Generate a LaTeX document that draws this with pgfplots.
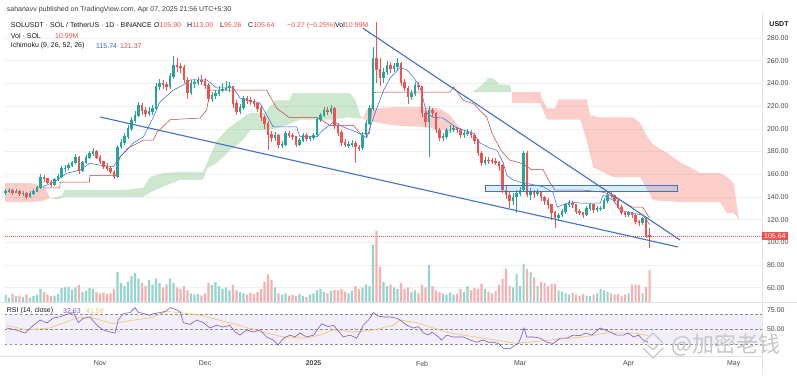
\documentclass[border=0pt]{standalone}
\usepackage{pgfplots}
\usepackage{pgfplotstable}
\pgfplotsset{compat=1.18}
\usepackage{fontspec}
\setmainfont{Liberation Sans}
\newfontfamily\cjk{Noto Sans CJK SC}
\definecolor{upc}{RGB}{38,166,154}
\definecolor{downc}{RGB}{239,83,80}
\definecolor{volup}{RGB}{150,212,206}
\definecolor{voldn}{RGB}{247,176,175}
\definecolor{txt}{RGB}{19,23,34}
\definecolor{hdr}{RGB}{60,60,66}
\definecolor{tickc}{RGB}{70,74,84}
\definecolor{gridc}{RGB}{238,240,244}
\definecolor{sepc}{RGB}{224,227,235}
\definecolor{tenkan}{RGB}{41,98,255}
\definecolor{kijun}{RGB}{183,28,28}
\definecolor{cg}{RGB}{76,175,80}
\definecolor{cr}{RGB}{244,67,54}
\definecolor{trend}{RGB}{66,114,196}
\definecolor{rsic}{RGB}{126,87,194}
\definecolor{rsima}{RGB}{240,200,110}
\definecolor{rsibg}{RGB}{243,239,250}
\newcommand\fs{\fontsize{7}{8.4}\selectfont}
\pgfplotsset{candle/.style={draw=none, no markers, error bars/y dir=both, error bars/y explicit, error bars/error mark=none}}
\pgfplotstableread{
d o h l c v
-27 144 147 142 145 2.5
-26 145 148 143 146 1.5
-25 146 147 142 144 2.8
-24 144 147 143 145 2.0
-23 145 146 141 143 2.2
-22 143 145 141 143.5 1.8
-21 143.5 144 138 140 2.5
-20 140 145 139 143 1.5
-19 143 147 142 145 2.0
-18 145 150 144 148 2.5
-17 148 160 147 157 4.5
-16 157 159 153 156 3.5
-15 156 157 151 153 2.5
-14 153 155 149 151 2.0
-13 151 157 150 155 2.2
-12 155 160 154 158 2.8
-11 158 167 157 165 4.8
-10 165 168 162 165.5 5.0
-9 165.5 170 164 168 5.2
-8 168 172 166 170 4.2
-7 170 178 169 175 5.0
-6 175 176 160 163 5.8
-5 163 172 162 170 3.5
-4 170 177 169 175 3.8
-3 175 180 173 178 4.8
-2 178 183 176 180 4.5
-1 180 181 173 175 3.5
0 175 177 169 171 3.0
1 171 172 165 167 3.2
2 167 170 163 165 2.8
3 165 167 160 162 3.0
4 162 164 156 158 4.5
5 158 186 157 184 10.3
6 184 191 182 188 6.5
7 188 196 186 193 5.5
8 193 203 191 200 7.0
9 200 210 198 207 9.0
10 207 216 205 212 10.0
11 212 224 210 221 8.0
12 221 223 212 216 6.5
13 216 219 210 213 5.5
14 213 219 211 215 7.5
15 215 221 212 218 6.0
16 218 240 217 237 8.0
17 237 244 234 240 6.5
18 240 243 235 239 5.0
19 239 241 233 237 6.0
20 237 249 235 246 8.0
21 246 264 244 256 6.5
22 256 262 250 255 5.0
23 255 258 249 254 4.5
24 254 256 240 243 5.5
25 243 246 226 232 4.0
26 232 243 230 240 3.0
27 240 244 236 241 2.5
28 241 246 239 243 2.8
29 243 247 239 242 2.2
30 242 245 235 238 3.0
31 238 240 224 227 6.5
32 227 232 224 229 5.8
33 229 234 226 231 6.8
34 231 238 229 234 5.5
35 234 240 232 235 4.5
36 235 242 233 236 5.0
37 236 241 232 237 4.0
38 237 238 218 222 6.0
39 222 225 212 215 4.0
40 215 222 213 219 3.5
41 219 229 217 227 3.0
42 227 229 222 225 2.5
43 225 228 221 224 3.2
44 224 226 219 222 2.8
45 222 224 215 218 3.5
46 218 220 207 210 4.5
47 210 212 200 205 7.0
48 205 207 181 195 9.5
49 195 198 188 192 7.5
50 192 197 189 194 5.0
51 194 195 183 186 3.0
52 186 189 183 186 2.5
53 186 198 185 196 3.0
54 196 198 192 194 2.2
55 194 196 190 193 2.5
56 193 194 184 186 2.0
57 186 192 185 190 2.8
58 190 196 188 194.5 2.0
59 194.5 196 189 191.5 1.8
60 191.5 194 189 192 2.5
61 192 196 190 194.5 3.0
62 194.5 210 193 208 4.0
63 208 214 206 212 4.5
64 212 219 210 216.6 3.5
65 216.6 219 212 215 3.0
66 215 221 213 218 3.8
67 218 219 200 203 4.2
68 203 205 194 197 4.0
69 197 199 185 188 4.5
70 188 191 184 186 3.5
71 186 189 183 186 3.0
72 186 190 184 187.5 3.8
73 187.5 189 170 184 5.5
74 184 186 180 183 4.5
75 183 197 181 194.5 5.0
76 194.5 208 193 205 6.0
77 205 221 203 218 5.5
78 218 272 216 262 19.7
79 262 294 240 252 24.5
80 252 262 238 245 12.0
81 245 254 240 250 6.8
82 250 260 247 256 5.5
83 256 259 249 253 6.0
84 253 258 250 255 5.0
85 255 262 252 258 4.5
86 258 259 238 241 6.5
87 241 244 233 236 4.5
88 236 238 222 228 5.0
89 228 234 225 231 3.5
90 231 241 229 238.6 4.0
91 238.6 241 234 237 3.0
92 237 238 210 214 6.0
93 214 216 202 206 5.0
94 206 220 175 216.6 12.8
95 216.6 218 210 214 5.5
96 214 215 196 199 4.0
97 199 201 189 192 3.5
98 192 196 189 193 3.0
99 193 201 191 199 2.5
100 199 203 196 199 3.2
101 199 203 197 200 2.5
102 200 202 196 199 2.8
103 199 201 192 194.5 4.5
104 194.5 199 192 196 3.5
105 196 200 194 197 5.5
106 197 199 192 194.5 4.0
107 194.5 196 187 190 4.8
108 190 191 176 178.6 4.5
109 178.6 180 167 170 6.2
110 170 175 168 172.5 4.5
111 172.5 175 169 172 3.5
112 172 174 169 171 3.0
113 171 174 168 170 3.8
114 170 172 163 168 6.0
115 168 169 143 146 8.0
116 146 150 138 141.7 11.4
117 141.7 145 130 137 5.5
118 137 143 133 140 5.0
119 140 146 126 143 9.7
120 143 149 141 146 5.5
121 146 180 144 178.6 13.1
122 178.6 180 140 141.7 11.4
123 141.7 148 137 144 10.3
124 144 146 139 143 8.5
125 143 147 141 144 5.5
126 144 145 136 140 6.9
127 140 141 133 137 6.5
128 137 139 129 133 5.5
129 133 134 120 126 6.2
130 126 128 113 122 6.2
131 122 126 119 124 4.0
132 124 129 122 127 3.5
133 127 135 125 133 3.0
134 133 137 131 134.6 2.5
135 134.6 136 130 133 3.2
136 133 134 125 127 2.5
137 127 129 124 126 2.0
138 126 127 121 124 2.8
139 124 132 123 130 2.2
140 130 135 128 133 2.0
141 133 134 126 128.5 2.5
142 128.5 132 127 130 3.0
143 130 132 128 130 4.5
144 130 139 129 137 4.0
145 137 144 135 141.7 3.5
146 141.7 145 139 141 3.0
147 141 142 135 137 2.5
148 137 138 129 131 2.8
149 131 133 124 126 2.0
150 126 127 122 124 2.5
151 124 128 122 126 3.0
152 126 127 121 124 6.0
153 124 125 116 118 6.0
154 118 120 114 117 5.8
155 117 122 115 121 3.0
156 121 122 104 105.9 5.2
157 105.9 113 95.26 105.64 11.0
}\candles
\begin{document}
\begin{tikzpicture}[x=1pt,y=1pt]
\path[use as bounding box] (0,0) rectangle (797,375);
\fill[white] (0,0) rectangle (797,375);
% separators
\draw[sepc, line width=0.6pt] (762,0) -- (762,362);
\draw[sepc, line width=0.6pt] (0,73) -- (797,73);
\draw[sepc, line width=0.6pt] (0,19) -- (762,19);

% ---------- main price pane ----------
\begin{axis}[
  at={(5pt,73pt)}, anchor=south west,
  scale only axis, width=757pt, height=285pt,
  xmin=-27.14, xmax=189.1, ymin=47.4, ymax=298.5,
  axis line style={draw=none}, tick style={draw=none},
  xtick=\empty,
  ytick={60,80,...,280},
  yticklabel pos=right,
  ymajorgrids, major grid style={draw=gridc, line width=0.5pt},
  yticklabel style={font=\fs, text=tickc, xshift=1.5pt,
    /pgf/number format/fixed, /pgf/number format/fixed zerofill,
    /pgf/number format/precision=2, /pgf/number format/1000 sep={},
    /pgf/number format/assume math mode=true},
  clip=false,
]
% Ichimoku cloud
\addplot[fill=cr, fill opacity=0.26, draw=none] coordinates {(-27.14,152.2)(-20,152.2)(-17,150)(-16,148)(-15,144)(-14.3,139)(-15,138)(-16,137)(-17,136)(-20,135.5)(-27.14,135.5)};
\addplot[fill=cg, fill opacity=0.28, draw=none] coordinates {(-14.3,138.5)(-12,140)(-11,141)(-10,146)(6.6,146)(12.3,148)(14.3,157.5)(18,161)(22.9,162)(29.4,162)(30.6,170)(33.4,190)(37.1,201.6)(40.9,210)(42.9,214)(47.1,214)(50,225)(54,225)(55,231.5)(71.4,231.5)(73,225)(74.3,212)(75,209)(74.3,209)(71,210)(66,208)(57,208)(54,204)(50,200)(47.1,199)(42.9,199)(40.9,190)(37.1,181)(33.4,170)(30.6,165)(29.4,155)(22.9,155)(18,149)(14.3,144)(12.3,140)(6.6,140)(-10,140)(-11,139)(-12,138)};
\addplot[fill=cr, fill opacity=0.26, draw=none] coordinates {(75,209)(76.5,218)(84,219)(92.4,219)(97,218)(100,212)(102,204)(103,200)(102,199)(97,199)(92.4,201.6)(84,203)(80,205)(76.5,207)};
\addplot[fill=cg, fill opacity=0.28, draw=none] coordinates {(106.3,232.4)(108,236)(109.5,240)(111,245)(112.5,244)(114,239)(117.1,238.6)(117.5,232.4)};
\addplot[fill=cr, fill opacity=0.26, draw=none] coordinates {(117.7,232.4)(125.7,232.4)(126.2,227)(127.7,218)(130,218)(131,226)(139,226)(140,212)(142.9,210)(152.3,210)(154.3,205)(156.3,193)(158,186)(162,178.7)(166,170)(168.6,166)(171.4,161)(177,161)(179,158)(181,152)(182.5,120)(181,126)(179,126)(177.1,135.5)(165.7,135.5)(158,137)(154.3,157.5)(146.6,157.5)(140.9,166)(139,190)(137.2,208)(127.7,208)(125.7,222.7)(117.7,222.7)};
% Kijun
\addplot[kijun!85, line width=0.5pt] coordinates {(-16.3,148)(-11.5,148)(-11.4,153)(-3,153)(-2.9,159)(4.5,159)(5,168)(5.7,175)(8,183)(12.4,190)(15.2,190)(16.3,197)(20,208)(28.6,209.5)(30.5,216.6)(31.4,234)(47.6,234)(50.5,218)(54,210)(62,210)(65.7,203)(72.4,203)(74.3,196)(77,196)(78,231.5)(79,232.4)(100,232.4)(101,237)(103.8,225)(106.7,222)(110.5,210)(112,196)(114.5,181)(117,172.5)(120,170)(121.4,168)(123.3,164)(126.6,164)(128.6,152)(130,146)(138,146)(144,144)(148.6,137)(152,131)(155,131)(157,121.37)};
% Tenkan
\addplot[tenkan, line width=0.5pt] coordinates {(-16.3,149)(-12.9,153.4)(-9.5,160.8)(-5.7,163.7)(-2.9,169.6)(0,168)(3.8,166.6)(5.7,175.4)(7.6,181)(9.5,187.5)(12.4,193)(15.2,210)(17.1,223.6)(20.9,234)(23.8,238.6)(25.7,243)(30.5,243)(33.3,236)(38.1,236)(40,227)(45.7,222.7)(49.5,201.6)(56.2,201.6)(57.1,193)(61.9,193)(63.8,199)(66.7,206)(69.5,201.6)(73.3,197)(76.2,192)(78.1,210)(81,234)(82.9,244.8)(85.7,254)(87.6,252)(89.5,245.6)(91.4,237)(93.3,214)(95.2,210)(98,209.5)(100,205)(102,200.7)(103.8,199)(106.7,196)(108.6,187.5)(111.4,183)(113.4,181)(115.2,170)(116.2,159)(118,155)(120,153)(126.6,149)(129.4,144)(130.6,131)(134.3,135.5)(137,134.6)(142.9,134.6)(143.7,141.7)(146.6,137)(148.6,128.5)(151.4,126)(155.1,124)(157,115.74)};
% candles: wicks
\addplot[candle, error bars/error bar style={draw=upc, line width=0.6pt},
  restrict expr to domain={\thisrow{c}-\thisrow{o}}{0:1000}]
  table[x=d, y expr={(\thisrow{h}+\thisrow{l})/2}, y error expr={(\thisrow{h}-\thisrow{l})/2}] {\candles};
\addplot[candle, error bars/error bar style={draw=downc, line width=0.6pt},
  restrict expr to domain={\thisrow{c}-\thisrow{o}}{-1000:-0.001}]
  table[x=d, y expr={(\thisrow{h}+\thisrow{l})/2}, y error expr={(\thisrow{h}-\thisrow{l})/2}] {\candles};
% candles: bodies
\addplot[candle, error bars/error bar style={draw=upc, line width=2.3pt},
  restrict expr to domain={\thisrow{c}-\thisrow{o}}{0:1000}]
  table[x=d, y expr={(\thisrow{o}+\thisrow{c})/2}, y error expr={abs(\thisrow{c}-\thisrow{o})/2+0.35}] {\candles};
\addplot[candle, error bars/error bar style={draw=downc, line width=2.3pt},
  restrict expr to domain={\thisrow{c}-\thisrow{o}}{-1000:-0.001}]
  table[x=d, y expr={(\thisrow{o}+\thisrow{c})/2}, y error expr={abs(\thisrow{c}-\thisrow{o})/2+0.35}] {\candles};
% zone rectangle
\addplot[draw=trend, line width=0.9pt, fill=trend!70!cyan, fill opacity=0.18] coordinates {(110,144.5)(164.9,144.5)(164.9,149.8)(110,149.8)(110,144.5)};
% trend lines
\addplot[trend, line width=1.1pt] coordinates {(75.1,288.6)(165.7,102)};
\addplot[trend, line width=1.1pt] coordinates {(0,210.4)(165.1,95.9)};
% last price line
\addplot[downc, line width=0.5pt, dash pattern=on 0.8pt off 1.2pt] coordinates {(-27.14,105.64)(189.1,105.64)};
\node[anchor=west, fill=downc, text=white, font=\fs, inner xsep=2pt, inner ysep=1.6pt] at (axis cs:189.1,105.64) {105.64};
\end{axis}

% ---------- volume overlay ----------
\begin{axis}[
  at={(5pt,73pt)}, anchor=south west,
  scale only axis, width=757pt, height=285pt,
  xmin=-27.14, xmax=189.1, ymin=0, ymax=98, hide axis]
\addplot[ybar, bar width=2.2pt, bar shift=0pt, fill=volup, draw=none,
  restrict expr to domain={\thisrow{c}-\thisrow{o}}{0:1000}] table[x=d, y=v] {\candles};
\addplot[ybar, bar width=2.2pt, bar shift=0pt, fill=voldn, draw=none,
  restrict expr to domain={\thisrow{c}-\thisrow{o}}{-1000:-0.001}] table[x=d, y=v] {\candles};
\end{axis}

% ---------- RSI pane ----------
\begin{axis}[
  at={(5pt,19pt)}, anchor=south west,
  scale only axis, width=757pt, height=54pt,
  xmin=-27.14, xmax=189.1, ymin=14.5, ymax=85.5,
  axis line style={draw=none}, tick style={draw=none},
  ytick={50,75}, yticklabel pos=right,
  yticklabel style={font=\fs, text=tickc, xshift=1.5pt,
    /pgf/number format/fixed, /pgf/number format/fixed zerofill,
    /pgf/number format/precision=2, /pgf/number format/assume math mode=true},
  xtick={0,30,61,92,120,151,181},
  xticklabels={Nov,Dec,\textbf{2025},Feb,Mar,Apr,May},
  xticklabel style={font=\fs, text=tickc, yshift=-1.5pt},
  clip=false,
]
\addplot[fill=rsibg, draw=none] coordinates {(-27.14,30)(189.1,30)(189.1,70)(-27.14,70)};
\addplot[color=black!45, line width=0.5pt, dash pattern=on 2.5pt off 2.5pt] coordinates {(-27.14,70)(189.1,70)};
\addplot[color=black!45, line width=0.5pt, dash pattern=on 2.5pt off 2.5pt] coordinates {(-27.14,50)(189.1,50)};
\addplot[color=black!45, line width=0.5pt, dash pattern=on 2.5pt off 2.5pt] coordinates {(-27.14,30)(189.1,30)};
\addplot[rsima, line width=0.7pt] coordinates {(-26.7,55)(-21,48.7)(-14.3,51.3)(-6.7,64.5)(-2.9,65.8)(0,61.8)(3.8,57)(9.5,61.8)(14.3,64.5)(19,73)(22.9,71.6)(28.6,68)(38,57)(47.6,44.7)(52.4,39.5)(59,38)(62.9,42)(66.7,48.7)(72.4,46)(78,48.7)(83.8,55)(85.7,61.8)(90.5,58.4)(95.2,51.3)(100,44.7)(109.5,38)(119,31)(128.6,35.5)(138,39.5)(144.8,44.7)(152.4,44.7)(156.6,41.58)};
\addplot[rsic, line width=0.6pt] coordinates {(-26.7,51.3)(-23.8,48.7)(-21.4,44.7)(-19,55)(-17.1,61.8)(-15.2,58)(-13.3,64.5)(-11.4,66)(-8.6,70.4)(-7.6,71.6)(-6.2,58.4)(-4.8,64)(-2.9,65.8)(-0.9,55)(0.9,48.7)(2.9,46)(4.3,44.7)(5.2,61.8)(6.7,70.4)(8.6,71.6)(10,78.2)(10.9,72)(12.4,70.4)(14.3,68)(15.2,70)(17.1,71.6)(18.6,73)(20,78)(21.4,76)(22.9,73)(23.8,58.4)(25.7,56)(27.6,61.8)(29.5,58.4)(31.4,51.3)(33.3,55)(35.2,52.5)(37.1,55)(38.6,46)(40,42)(41.9,48.7)(43.8,46)(45.7,48.7)(47.6,39.5)(49.5,35.5)(50.9,28.9)(52.4,38)(54.3,42)(55.7,39.5)(57.1,44.7)(59,39.5)(61,42)(63.3,57)(65.2,53)(66.7,55)(68.6,44.7)(69.5,39.5)(71.4,42)(73.3,38)(74.3,46)(75.2,55)(76.7,61.8)(78.1,71.6)(79.5,67)(81,65.8)(82.9,65.8)(84.8,64)(85.7,62)(87.6,55)(89.5,51.3)(91,53)(92.4,44.7)(93.8,42)(94.8,46)(96.7,39.5)(97.6,35.5)(99,42)(100.9,39.5)(103.8,39.5)(105.7,35.5)(107.6,32.6)(109.5,35.5)(110.9,32.6)(112.4,32.6)(113.8,31)(115.2,24.7)(117.1,24)(118.6,28.9)(119.5,31)(120.5,42)(121.1,51.3)(121.9,39.5)(123.8,39.5)(125.7,38)(127.6,32.6)(129.5,31)(131.4,38)(133.3,38)(135.2,42)(137.1,41)(138.6,44.7)(140.5,42)(142.9,51.3)(144.3,48.7)(145.7,46)(147.6,42)(149.5,42)(150.9,44.7)(152.4,39.5)(153.8,42)(155.2,35.5)(156.6,32.63)};
\end{axis}

% ---------- texts ----------
\node[anchor=west, inner sep=0, font=\fs, text=hdr] at (6.7,365.7) {sahanavv published on TradingView.com, Apr 07, 2025 21:56 UTC+5:30};
\node[anchor=west, inner sep=0, font=\fs, text=txt] at (10.7,349.7) {SOLUSDT · SOL / TetherUS · 1D · BINANCE};
\node[anchor=west, inner sep=0, font=\fs] at (154,349.7) {\textcolor{txt}{O}\textcolor{downc}{105.90}};
\node[anchor=west, inner sep=0, font=\fs] at (187,349.7) {\textcolor{txt}{H}\textcolor{downc}{113.00}};
\node[anchor=west, inner sep=0, font=\fs] at (220,349.7) {\textcolor{txt}{L}\textcolor{downc}{95.26}};
\node[anchor=west, inner sep=0, font=\fs] at (248,349.7) {\textcolor{txt}{C}\textcolor{downc}{105.64}};
\node[anchor=west, inner sep=0, font=\fs, text=downc] at (287,349.7) {−0.27 (−0.25\%)};
\node[anchor=west, inner sep=0, font=\fs] at (335,349.7) {\textcolor{txt}{Vol}\textcolor{downc}{10.99M}};
\node[anchor=west, inner sep=0, font=\fs, text=txt] at (10.7,339) {Vol · SOL};
\node[anchor=west, inner sep=0, font=\fs, text=downc] at (55,339) {10.99M};
\node[anchor=west, inner sep=0, font=\fs, text=txt] at (10.7,329) {Ichimoku (9, 26, 52, 26)};
\node[anchor=west, inner sep=0, font=\fs, text=tenkan] at (96,329) {115.74};
\node[anchor=west, inner sep=0, font=\fs, text=downc!90!black] at (120,329) {121.37};
\node[anchor=west, inner sep=0, font=\fs, text=txt] at (6.7,64) {RSI (14, close)};
\node[anchor=west, inner sep=0, font=\fs, text=rsic] at (63,64) {32.63};
\node[anchor=west, inner sep=0, font=\fs, text=rsima] at (86,64) {41.58};
\node[inner sep=0, font=\fs\bfseries, text=txt] at (779,351) {USDT};
% watermark
\draw[black!22, line width=1.3pt, line join=round] (643,32) -- (653,42) -- (663,32);
\draw[black!22, line width=1.3pt, line join=round] (643,27) -- (653,17) -- (663,27);
\draw[black!22, line width=1.3pt, line join=round] (647,31) -- (653,25) -- (659,31);
\node[anchor=west, inner sep=0, font=\cjk\fontsize{22}{22}\selectfont, text=black!22] at (671,30) {@加密老钱};
\end{tikzpicture}
\end{document}
